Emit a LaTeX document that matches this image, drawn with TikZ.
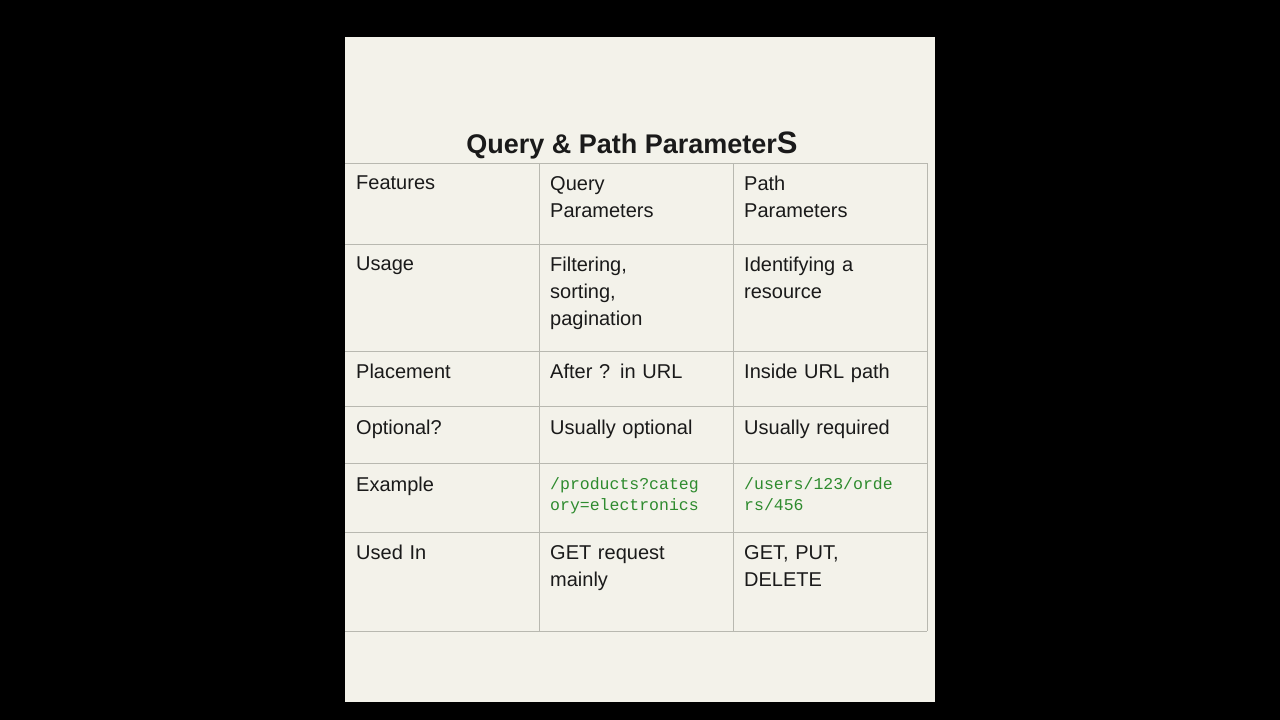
\documentclass[tikz,border=0pt]{standalone}
\usepackage{fontspec}
\setmainfont{Liberation Sans}
\newfontfamily\codefont{Liberation Mono}
\definecolor{panel}{HTML}{F3F2EA}
\definecolor{gridc}{HTML}{B8B8B0}
\definecolor{codec}{HTML}{2E8B2E}
\definecolor{txt}{HTML}{1A1A1A}
\begin{document}
\begin{tikzpicture}[x=1pt,y=-1pt,
  cell/.style={anchor=north west,inner sep=0pt,text width=175pt,align=left,text=txt,
    font=\fontsize{20}{27}\selectfont},
  code/.style={anchor=north west,inner sep=0pt,text width=175pt,align=left,text=codec,
    font=\codefont\fontsize{16.5}{21}\selectfont}]
\fill[black] (0,0) rectangle (1280,720);
\fill[panel] (345,37) rectangle (935,702);
\node[font=\bfseries\fontsize{27}{30}\selectfont,text=txt] (title) at (632,145) {Query \& Path Parameter{\fontsize{31}{30}\selectfont S}};
\foreach \y in {163,244,351,406,463,532,631} \draw[gridc,line width=1pt] (345,\y) -- (927,\y);
\foreach \x in {539,733,927} \draw[gridc,line width=1pt] (\x,163) -- (\x,631);
\node[cell] (a1) at (356,176) {Features};
\node[cell] (b1) at (550,176) {Query\\Parameters};
\node[cell] (c1) at (744,176) {Path\\Parameters};
\node[cell] (a2) at (356,257) {Usage};
\node[cell] (b2) at (550,257) {Filtering,\\sorting,\\pagination};
\node[cell] (c2) at (744,257) {Identifying a\\resource};
\node[cell] (a3) at (356,364) {Placement};
\node[cell] (b3) at (550,364) {After ? in URL};
\node[cell] (c3) at (744,364) {Inside URL path};
\node[cell] (a4) at (356,420) {Optional?};
\node[cell] (b4) at (550,420) {Usually optional};
\node[cell] (c4) at (744,420) {Usually required};
\node[cell] (a5) at (356,477) {Example};
\node[code] (b5) at (550,477) {/products?categ\\ory=electronics};
\node[code] (c5) at (744,477) {/users/123/orde\\rs/456};
\node[cell] (a6) at (356,545) {Used In};
\node[cell] (b6) at (550,545) {GET request\\mainly};
\node[cell] (c6) at (744,545) {GET, PUT,\\DELETE};
\end{tikzpicture}
\end{document}
